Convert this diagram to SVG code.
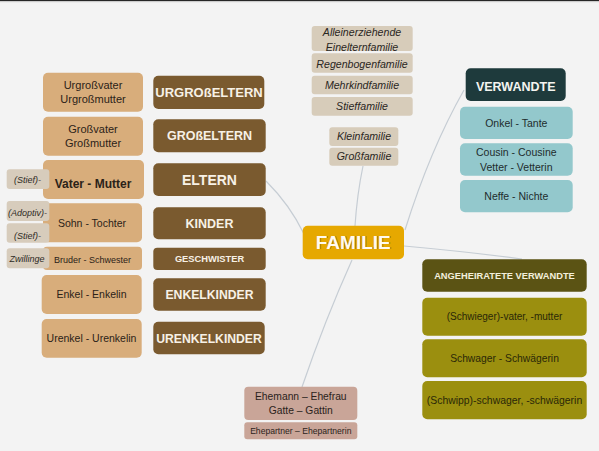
<svg xmlns="http://www.w3.org/2000/svg" width="599" height="451" viewBox="0 0 599 451">
<defs>
<style>
text{font-family:"Liberation Sans",Arial,sans-serif;text-anchor:middle}
.tan{fill:#d8ad7b}
.dk{fill:#7a5a2f}
.tag{fill:#d7ccbc}
.beige{fill:#d7ccba}
.teal{fill:#93c8cc}
.olive{fill:#9b8f0f}
.tdark{fill:#2b2218;font-size:11px}
.twhite{fill:#f7f1e6;font-weight:bold;font-size:12px}
.ttag{fill:#2e2a25;font-style:italic;font-size:9px}
.tmid{fill:#2a2622;font-style:italic;font-size:10.6px}
.tteal{fill:#1e2c2d;font-size:10.5px}
.tolive{fill:#2a2808;font-size:10.3px}
.conn{fill:none;stroke:#c6cdd4;stroke-width:1.2}
</style>
</defs>
<rect x="0" y="0" width="599" height="451" fill="#f3f3f3"/>
<rect x="0" y="0" width="599" height="1.4" fill="#262626"/>
<rect x="0" y="1.4" width="599" height="1.2" fill="#e6e6e6"/>

<g id="connectors">
<path class="conn" d="M266,181 Q290,205 304,234"/>
<path class="conn" d="M363,166 Q357,195 355,226"/>
<path class="conn" d="M405,230 Q430,150 464,90"/>
<path class="conn" d="M404,246 Q470,252 522,259"/>
<path class="conn" d="M352,260 Q325,320 302,387"/>
</g>

<g id="urgrosseltern-personen"><rect class="tan" x="43" y="72.7" width="100" height="39" rx="5"/><text class="tdark" x="93" y="89">Urgroßvater</text><text class="tdark" x="93" y="103">Urgroßmutter</text></g>
<g id="grosseltern-personen"><rect class="tan" x="43" y="116.7" width="100" height="39" rx="5"/><text class="tdark" x="93" y="133">Großvater</text><text class="tdark" x="93" y="146.5">Großmutter</text></g>
<g id="eltern-personen"><rect class="tan" x="43" y="160" width="101" height="39" rx="5"/><text class="tdark" x="93" y="188.3" style="font-size:12px;font-weight:bold">Vater - Mutter</text></g>
<g id="kinder-personen"><rect class="tan" x="43" y="203.3" width="99" height="39" rx="5"/><text class="tdark" x="92" y="227" style="font-size:10.5px">Sohn - Tochter</text></g>
<g id="geschwister-personen"><rect class="tan" x="43" y="246.7" width="99" height="23.3" rx="4"/><text class="tdark" x="92.5" y="262.5" style="font-size:9px">Bruder - Schwester</text></g>
<g id="enkel-personen"><rect class="tan" x="41.7" y="275" width="100" height="39" rx="5"/><text class="tdark" x="91.5" y="298" style="font-size:10.5px">Enkel - Enkelin</text></g>
<g id="urenkel-personen"><rect class="tan" x="41.7" y="319" width="100" height="38.7" rx="5"/><text class="tdark" x="91.5" y="342" style="font-size:10.5px">Urenkel - Urenkelin</text></g>

<g id="tag-stief-1"><rect class="tag" x="6.7" y="169.3" width="42.6" height="19.7" rx="3"/><text class="ttag" x="27.5" y="183.2">(Stief)-</text></g>
<g id="tag-adoptiv"><rect class="tag" x="6.7" y="201" width="42.6" height="20" rx="3"/><text class="ttag" x="27.5" y="215.8">(Adoptiv)-</text></g>
<g id="tag-stief-2"><rect class="tag" x="6.7" y="223.3" width="42.6" height="19.4" rx="3"/><text class="ttag" x="27.5" y="239.2">(Stief)-</text></g>
<g id="tag-zwillinge"><rect class="tag" x="6.7" y="248.3" width="42.6" height="20" rx="3"/><text class="ttag" x="27" y="261.5">Zwillinge</text></g>

<g id="urgrosseltern"><rect class="dk" x="153.3" y="75.7" width="111" height="33.3" rx="5"/><text class="twhite" x="209" y="97.2" style="font-size:13px">URGROßELTERN</text></g>
<g id="grosseltern"><rect class="dk" x="153.3" y="119.3" width="112.4" height="33" rx="5"/><text class="twhite" x="209.5" y="140.2" style="font-size:12.5px">GROßELTERN</text></g>
<g id="eltern"><rect class="dk" x="153.3" y="163.3" width="112.4" height="32.7" rx="5"/><text class="twhite" x="209.5" y="184.6" style="font-size:14px">ELTERN</text></g>
<g id="kinder"><rect class="dk" x="153.3" y="207.3" width="112.4" height="32" rx="5"/><text class="twhite" x="209.5" y="227.7" style="font-size:12.5px">KINDER</text></g>
<g id="geschwister"><rect class="dk" x="153.3" y="247.7" width="112.4" height="22.3" rx="4"/><text class="twhite" x="209.5" y="262.2" style="font-size:9.3px">GESCHWISTER</text></g>
<g id="enkelkinder"><rect class="dk" x="153.3" y="278.3" width="112.4" height="32.4" rx="5"/><text class="twhite" x="209.5" y="299" style="font-size:12.2px">ENKELKINDER</text></g>
<g id="urenkelkinder"><rect class="dk" x="153.3" y="321.7" width="111.4" height="32.6" rx="5"/><text class="twhite" x="209" y="342.5" style="font-size:12.2px">URENKELKINDER</text></g>

<g id="alleinerziehende"><rect class="beige" x="311.7" y="26" width="101" height="25" rx="3"/><text class="tmid" x="362" y="36">Alleinerziehende</text><text class="tmid" x="362" y="50.5">Einelternfamilie</text></g>
<g id="regenbogenfamilie"><rect class="beige" x="311.7" y="53.3" width="101" height="19.4" rx="3"/><text class="tmid" x="362" y="67.8">Regenbogenfamilie</text></g>
<g id="mehrkindfamilie"><rect class="beige" x="311.7" y="75.7" width="101" height="18.6" rx="3"/><text class="tmid" x="362" y="89">Mehrkindfamilie</text></g>
<g id="stieffamilie"><rect class="beige" x="311.7" y="97" width="101" height="18.7" rx="3"/><text class="tmid" x="362" y="109.8">Stieffamilie</text></g>
<g id="kleinfamilie"><rect class="beige" x="329.3" y="127.3" width="69" height="18.7" rx="3"/><text class="tmid" x="364" y="140.4">Kleinfamilie</text></g>
<g id="grossfamilie"><rect class="beige" x="329.3" y="147.7" width="69" height="18" rx="3"/><text class="tmid" x="364" y="160.4">Großfamilie</text></g>

<g id="verwandte"><rect x="465.7" y="68.3" width="100" height="32.7" rx="5" fill="#1e3a3c"/><text x="515.7" y="90.5" style="fill:#f4f4f0;font-weight:bold;font-size:12.5px">VERWANDTE</text></g>
<g id="onkel-tante"><rect class="teal" x="460" y="106.7" width="112.7" height="32.3" rx="5"/><text class="tteal" x="516.3" y="127">Onkel - Tante</text></g>
<g id="cousin"><rect class="teal" x="460" y="143.3" width="112.7" height="32.4" rx="5"/><text class="tteal" x="516.3" y="156.4">Cousin - Cousine</text><text class="tteal" x="516.3" y="171">Vetter - Vetterin</text></g>
<g id="neffe-nichte"><rect class="teal" x="460" y="180" width="112.7" height="32.3" rx="5"/><text class="tteal" x="516.3" y="200.4">Neffe - Nichte</text></g>

<g id="familie"><rect x="302.7" y="225.7" width="101.3" height="33.6" rx="5" fill="#e6a800"/><text x="354.3" y="249.3" style="fill:#6b4a00;font-weight:bold;font-size:19px" opacity="0.55">FAMILIE</text><text x="353.3" y="248.5" style="fill:#fffaf0;font-weight:bold;font-size:19px">FAMILIE</text></g>

<g id="angeheiratete-verwandte"><rect x="422.3" y="259.3" width="164.4" height="32.4" rx="5" fill="#5b5314"/><text x="504.5" y="279.3" style="fill:#f3efdc;font-weight:bold;font-size:9.3px">ANGEHEIRATETE VERWANDTE</text></g>
<g id="schwiegereltern"><rect class="olive" x="422.3" y="297.7" width="164.4" height="38" rx="5"/><text class="tolive" x="504.5" y="320.3" style="font-size:10px">(Schwieger)-vater, -mutter</text></g>
<g id="schwager"><rect class="olive" x="422.3" y="339.3" width="164.4" height="38" rx="5"/><text class="tolive" x="504.5" y="362">Schwager - Schwägerin</text></g>
<g id="schwippschwager"><rect class="olive" x="422.3" y="381" width="164.4" height="38.3" rx="5"/><text class="tolive" x="504.5" y="403.7" style="font-size:10.4px">(Schwipp)-schwager, -schwägerin</text></g>

<g id="ehemann-ehefrau"><rect x="244.3" y="386.7" width="113" height="33.3" rx="4" fill="#c9a598"/><text x="300.8" y="399.7" style="fill:#2b1f1b;font-size:10.3px">Ehemann – Ehefrau</text><text x="300.8" y="413.7" style="fill:#2b1f1b;font-size:10.3px">Gatte – Gattin</text></g>
<g id="ehepartner"><rect x="244.3" y="422.3" width="113" height="17" rx="3" fill="#c9a598"/><text x="300.8" y="433.9" style="fill:#2b1f1b;font-size:8.6px">Ehepartner – Ehepartnerin</text></g>
</svg>
